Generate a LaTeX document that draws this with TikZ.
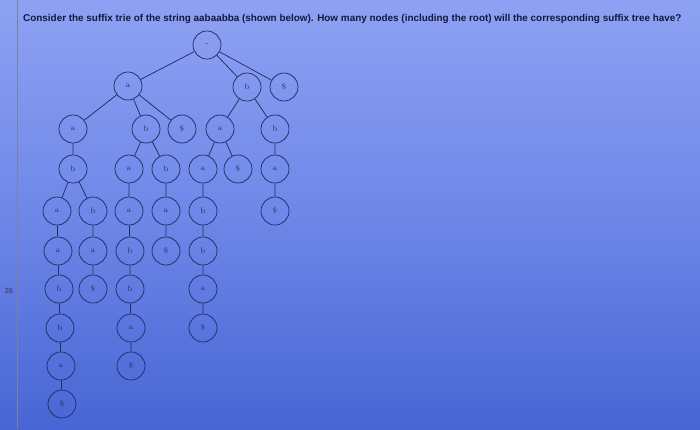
\documentclass[tikz,border=0pt]{standalone}
\usepackage{fontspec}
\setsansfont{Liberation Sans}
\definecolor{bgtop}{RGB}{142,162,243}
\definecolor{bgmid}{RGB}{110,135,232}
\definecolor{bgbot}{RGB}{72,102,212}
\definecolor{linecol}{RGB}{35,45,100}
\definecolor{txtcol}{RGB}{20,24,60}
\tikzset{
  tnode/.style={circle, draw=linecol, line width=0.75pt, minimum size=28pt, inner sep=0pt,
    font=\fontsize{8}{9}\selectfont, text=linecol},
  tedge/.style={draw=linecol, line width=0.75pt}
}
\begin{document}
\begin{tikzpicture}[x=1pt,y=-1pt]
\useasboundingbox (0,0) rectangle (700,429);
\shade[top color=bgtop, bottom color=bgbot, middle color=bgmid] (0,0) rectangle (700,429);
\draw[linecol!60, line width=0.6pt] (17,0) -- (17,429);
\node[font=\sffamily\bfseries\fontsize{7.5}{8}\selectfont, text=linecol!85] (pg) at (9,291) {26};
\node[font=\sffamily\bfseries\fontsize{9.9}{12}\selectfont, text=txtcol, anchor=west, inner sep=0pt] (title) at (23,19)
  {Consider the suffix trie of the string aabaabba (shown below). How many nodes (including the root) will the corresponding suffix tree have?};
% level 0
\node[tnode] (r) at (207,45) {-};
% level 1
\node[tnode] (A) at (128,86) {a};
\node[tnode] (B) at (247,87) {b};
\node[tnode] (D) at (284,87) {\$};
% level 2
\node[tnode] (AA) at (73,129) {a};
\node[tnode] (AB) at (146,129) {b};
\node[tnode] (AD) at (182,129) {\$};
\node[tnode] (BA) at (220,129) {a};
\node[tnode] (BB) at (275,129) {b};
% level 3
\node[tnode] (AAB) at (73,169) {b};
\node[tnode] (ABA) at (129,169) {a};
\node[tnode] (ABB) at (166,169) {b};
\node[tnode] (BAA) at (203,169) {a};
\node[tnode] (BAD) at (238,169) {\$};
\node[tnode] (BBA) at (275,169) {a};
% level 4
\node[tnode] (AABA) at (57,211) {a};
\node[tnode] (AABB) at (93,211) {b};
\node[tnode] (ABAA) at (129,211) {a};
\node[tnode] (ABBA) at (166,211) {a};
\node[tnode] (BAAB) at (203,211) {b};
\node[tnode] (BBAD) at (275,211) {\$};
% level 5
\node[tnode] (c1e) at (58,251) {a};
\node[tnode] (c2e) at (93,251) {a};
\node[tnode] (c3e) at (130,251) {b};
\node[tnode] (c4e) at (166,251) {\$};
\node[tnode] (c5e) at (203,251) {b};
% level 6
\node[tnode] (c1f) at (59,289) {b};
\node[tnode] (c2f) at (93,289) {\$};
\node[tnode] (c3f) at (130,289) {b};
\node[tnode] (c5f) at (203,289) {a};
% level 7
\node[tnode] (c1g) at (60,328) {b};
\node[tnode] (c3g) at (131,328) {a};
\node[tnode] (c5g) at (203,328) {\$};
% level 8
\node[tnode] (c1h) at (61,366) {a};
\node[tnode] (c3h) at (131,366) {\$};
% level 9
\node[tnode] (c1i) at (62,404) {\$};
% edges
\path[tedge] (r) -- (A) (r) -- (B) (r) -- (D)
  (A) -- (AA) (A) -- (AB) (A) -- (AD)
  (B) -- (BA) (B) -- (BB)
  (AA) -- (AAB) (AB) -- (ABA) (AB) -- (ABB)
  (BA) -- (BAA) (BA) -- (BAD) (BB) -- (BBA)
  (AAB) -- (AABA) (AAB) -- (AABB) (ABA) -- (ABAA) (ABB) -- (ABBA)
  (BAA) -- (BAAB) (BBA) -- (BBAD)
  (AABA) -- (c1e) (AABB) -- (c2e) (ABAA) -- (c3e) (ABBA) -- (c4e) (BAAB) -- (c5e)
  (c1e) -- (c1f) (c2e) -- (c2f) (c3e) -- (c3f) (c5e) -- (c5f)
  (c1f) -- (c1g) (c3f) -- (c3g) (c5f) -- (c5g)
  (c1g) -- (c1h) (c3g) -- (c3h)
  (c1h) -- (c1i);
\end{tikzpicture}
\end{document}
